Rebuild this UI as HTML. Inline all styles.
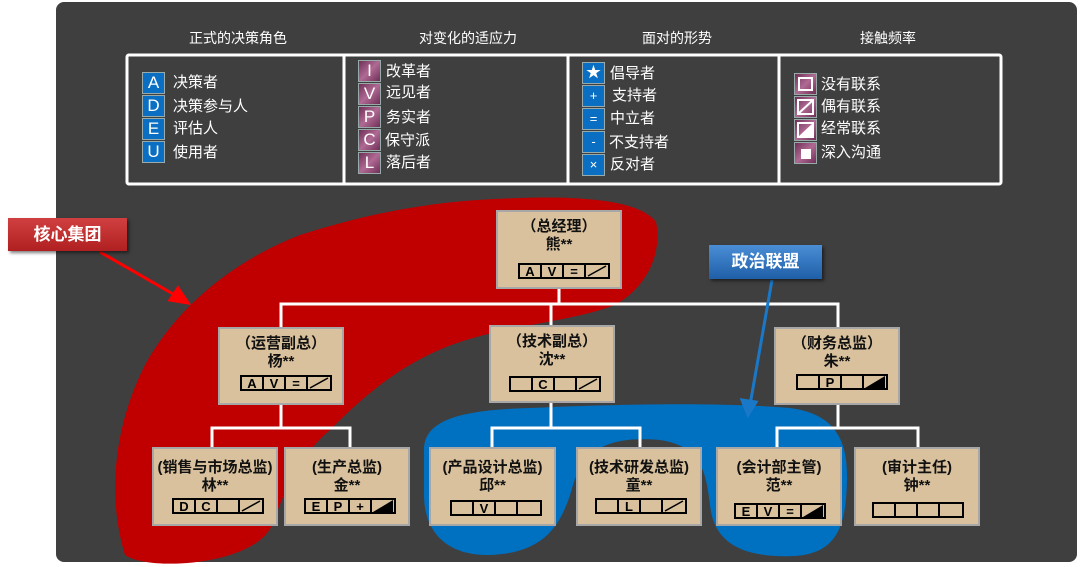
<!DOCTYPE html>
<html><head><meta charset="utf-8"><style>
*{margin:0;padding:0;box-sizing:border-box}
body{width:1080px;height:567px;background:#fff;position:relative;overflow:hidden;font-family:"Liberation Sans","Noto Sans CJK SC",sans-serif}
.bg{position:absolute;left:56px;top:2px;width:1021px;height:560px;background:#3f3f3f;border-radius:8px}
.h{position:absolute;top:28px;color:#fff;font-size:14px;transform:translateX(-50%);white-space:nowrap}
.lt{position:absolute;color:#fff;font-size:15px;white-space:nowrap;line-height:16px}
.sq{position:absolute;width:23px;height:22px;border:1px solid #9aa;color:#fff;font-size:17px;text-align:center;line-height:20px}
.b{background:#0a6fc2}
.p{background:linear-gradient(135deg,#6e2f55,#b06a94 50%,#6e2f55)}
.node{position:absolute;background:#d9c19d;border:2px solid #a7a7a7;text-align:center;color:#111;font-size:15px;font-weight:bold;line-height:18px}
.st{position:absolute;display:flex;border:2px solid #000;height:16px}
.st span{width:22px;height:12px;border-right:2px solid #000;font-size:13px;line-height:13px;text-align:center;font-weight:bold;position:relative;overflow:hidden}
.st span:last-child{border-right:none}
.lab{position:absolute;color:#fff;font-weight:bold;font-size:17px;text-align:center;line-height:33px;box-shadow:2px 2px 3px rgba(0,0,0,.5)}
</style></head><body>
<div class="bg"></div>
<svg width="1080" height="567" style="position:absolute;left:0;top:0">
<path d="M125,555 C108,500 112,430 145,365 C175,310 230,262 300,235 C380,210 440,200 520,198 C580,196 640,200 656,222 C662,250 650,285 615,305 C570,322 510,325 460,342 C400,362 360,400 330,430 C300,455 285,490 272,525 C255,565 150,572 125,555 Z" fill="#c00000"/>
<path d="M424,450 C424,420 460,410 530,408 C620,404 720,402 790,408 C835,414 848,440 847,480 C846,525 838,553 795,556 C745,558 714,545 710,505 C706,470 700,446 660,440 C610,436 585,448 573,485 C562,525 545,553 490,555 C445,556 424,530 424,495 Z" fill="#0070c0"/>
<g stroke="#fff" stroke-width="3" fill="none">
<path d="M559,289V304M281,327V304H838V327M551,304V325"/>
<path d="M281,405V428M212,447V428H350V447"/>
<path d="M551,403V428M492,447V428H640V447"/>
<path d="M838,405V428M777,447V428H918V447"/>
<rect x="127" y="55" width="874" height="129" rx="2"/>
<path d="M344,55V184M568,55V184M779,55V184"/>
</g>
<g stroke="#ff0000" stroke-width="3" fill="#ff0000"><path d="M100,252L180,298"/><path d="M188,303L170,300L178,288Z"/></g>
<g stroke="#1a78c8" stroke-width="3" fill="#1a78c8"><path d="M772,280L750,405"/><path d="M748,415L742,400L756,402Z"/></g>
</svg>
<div class="h" style="left:238px">正式的决策角色</div>
<div class="h" style="left:468px">对变化的适应力</div>
<div class="h" style="left:677px">面对的形势</div>
<div class="h" style="left:888px">接触频率</div>

<div class="sq b" style="left:142px;top:72px">A</div><div class="sq b" style="left:142px;top:95px">D</div><div class="sq b" style="left:142px;top:118px">E</div><div class="sq b" style="left:142px;top:141px">U</div>
<div class="lt" style="left:173px;top:75px">决策者</div><div class="lt" style="left:173px;top:99px">决策参与人</div><div class="lt" style="left:173px;top:121px">评估人</div><div class="lt" style="left:173px;top:145px">使用者</div>

<div class="sq p" style="left:358px;top:60px">I</div><div class="sq p" style="left:358px;top:83px">V</div><div class="sq p" style="left:358px;top:106px">P</div><div class="sq p" style="left:358px;top:129px">C</div><div class="sq p" style="left:358px;top:152px">L</div>
<div class="lt" style="left:386px;top:64px">改革者</div><div class="lt" style="left:386px;top:85px">远见者</div><div class="lt" style="left:386px;top:110px">务实者</div><div class="lt" style="left:385px;top:133px">保守派</div><div class="lt" style="left:386px;top:155px">落后者</div>

<div class="sq b" style="left:582px;top:62px;font-size:15px">★</div><div class="sq b" style="left:582px;top:85px;font-size:13px">+</div><div class="sq b" style="left:582px;top:108px;font-size:13px">=</div><div class="sq b" style="left:582px;top:131px;font-size:13px">-</div><div class="sq b" style="left:582px;top:154px;font-size:13px">×</div>
<div class="lt" style="left:610px;top:66px">倡导者</div><div class="lt" style="left:612px;top:88px">支持者</div><div class="lt" style="left:610px;top:111px">中立者</div><div class="lt" style="left:609px;top:135px">不支持者</div><div class="lt" style="left:610px;top:157px">反对者</div>

<div class="sq p" style="left:794px;top:73px"><div style="margin:3px auto;width:15px;height:14px;border:2px solid #fff"></div></div>
<div class="sq p" style="left:794px;top:96px"><svg width="21" height="20"><rect x="3" y="3" width="15" height="14" fill="none" stroke="#fff" stroke-width="2"/><path d="M4,16L17,4" stroke="#fff" stroke-width="2"/></svg></div>
<div class="sq p" style="left:794px;top:119px"><svg width="21" height="20"><rect x="3" y="3" width="15" height="14" fill="none" stroke="#fff" stroke-width="2"/><path d="M3,17L18,3V17Z" fill="#fff"/></svg></div>
<div class="sq p" style="left:794px;top:142px"><div style="margin:6px 0 0 6px;width:10px;height:10px;background:#fff"></div></div>
<div class="lt" style="left:821px;top:77px">没有联系</div><div class="lt" style="left:821px;top:99px">偶有联系</div><div class="lt" style="left:821px;top:121px">经常联系</div><div class="lt" style="left:821px;top:145px">深入沟通</div>

<div class="lab" style="left:8px;top:218px;width:119px;height:33px;background:linear-gradient(#d04040,#b02020)">核心集团</div>
<div class="lab" style="left:709px;top:245px;width:113px;height:34px;background:linear-gradient(#4a8ed6,#1f5fa8)">政治联盟</div>

<div class="node" style="left:496px;top:210px;width:126px;height:79px;padding-top:6px">（总经理）<br>熊**</div>
<div class="st" style="left:518px;top:263px"><span>A</span><span>V</span><span>=</span><span><svg width="22" height="12" style="position:absolute;left:0;top:0"><path d="M2,11L20,1" stroke="#000" stroke-width="1.5"/></svg></span></div>

<div class="node" style="left:218px;top:327px;width:126px;height:78px;padding-top:6px">（运营副总）<br>杨**</div>
<div class="st" style="left:240px;top:375px"><span>A</span><span>V</span><span>=</span><span><svg width="22" height="12" style="position:absolute;left:0;top:0"><path d="M2,11L20,1" stroke="#000" stroke-width="1.5"/></svg></span></div>

<div class="node" style="left:489px;top:325px;width:126px;height:78px;padding-top:6px">（技术副总）<br>沈**</div>
<div class="st" style="left:509px;top:376px"><span></span><span>C</span><span></span><span><svg width="22" height="12" style="position:absolute;left:0;top:0"><path d="M2,11L20,1" stroke="#000" stroke-width="1.5"/></svg></span></div>

<div class="node" style="left:774px;top:327px;width:126px;height:78px;padding-top:6px">（财务总监）<br>朱**</div>
<div class="st" style="left:796px;top:374px"><span></span><span>P</span><span></span><span><svg width="22" height="12" style="position:absolute;left:0;top:0"><path d="M1,12L21,0V12Z" fill="#000"/></svg></span></div>

<div class="node" style="left:152px;top:447px;width:126px;height:79px;padding-top:10px">(销售与市场总监)<br>林**</div>
<div class="st" style="left:172px;top:498px"><span>D</span><span>C</span><span></span><span><svg width="22" height="12" style="position:absolute;left:0;top:0"><path d="M2,11L20,1" stroke="#000" stroke-width="1.5"/></svg></span></div>

<div class="node" style="left:284px;top:447px;width:126px;height:79px;padding-top:10px">(生产总监)<br>金**</div>
<div class="st" style="left:304px;top:498px"><span>E</span><span>P</span><span>+</span><span><svg width="22" height="12" style="position:absolute;left:0;top:0"><path d="M1,12L21,0V12Z" fill="#000"/></svg></span></div>

<div class="node" style="left:429px;top:447px;width:127px;height:79px;padding-top:10px">(产品设计总监)<br>邱**</div>
<div class="st" style="left:450px;top:500px"><span></span><span>V</span><span></span><span></span></div>

<div class="node" style="left:576px;top:447px;width:126px;height:79px;padding-top:10px">(技术研发总监)<br>童**</div>
<div class="st" style="left:595px;top:498px"><span></span><span>L</span><span></span><span><svg width="22" height="12" style="position:absolute;left:0;top:0"><path d="M2,11L20,1" stroke="#000" stroke-width="1.5"/></svg></span></div>

<div class="node" style="left:716px;top:447px;width:126px;height:79px;padding-top:10px">(会计部主管)<br>范**</div>
<div class="st" style="left:734px;top:503px"><span>E</span><span>V</span><span>=</span><span><svg width="22" height="12" style="position:absolute;left:0;top:0"><path d="M1,12L21,0V12Z" fill="#000"/></svg></span></div>

<div class="node" style="left:854px;top:447px;width:126px;height:79px;padding-top:10px">(审计主任)<br>钟**</div>
<div class="st" style="left:872px;top:502px"><span></span><span></span><span></span><span></span></div>
</body></html>
